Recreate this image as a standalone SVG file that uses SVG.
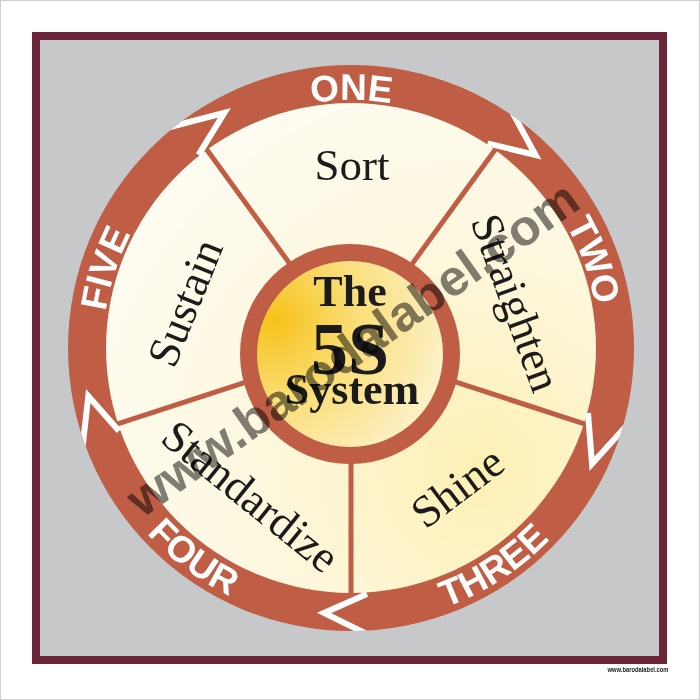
<svg xmlns="http://www.w3.org/2000/svg" width="700" height="700" viewBox="0 0 700 700">
  <defs>
    <style>
      .ring { fill: #bf5e45; }
      .spoke { stroke: #bf5e45; stroke-width: 5; stroke-linecap: butt; }
      .chev { fill: none; stroke: #ffffff; stroke-width: 6; stroke-linejoin: miter; stroke-miterlimit: 10; }
      .seg { font-family: "Liberation Serif", "Times New Roman", serif; font-size: 45px; fill: #1b1b1b; text-anchor: middle; }
      .num { font-family: "Liberation Sans", Arial, sans-serif; font-weight: bold; font-size: 37px; fill: #ffffff; text-anchor: middle; }
      .ctr { font-family: "Liberation Serif", "Times New Roman", serif; font-weight: bold; fill: #1b1b1b; text-anchor: middle; }
      .wm { font-family: "Liberation Sans", Arial, sans-serif; font-weight: bold; font-size: 50px; fill: #808080; text-anchor: middle; mix-blend-mode: multiply; }
    </style>
    <radialGradient id="creamGrad" cx="480" cy="470" r="420" gradientUnits="userSpaceOnUse">
      <stop offset="0" stop-color="#fdf0b4"/>
      <stop offset="0.5" stop-color="#fdf7dc"/>
      <stop offset="1" stop-color="#fefcf2"/>
    </radialGradient>
    <radialGradient id="coreGrad" cx="275" cy="320" r="190" gradientUnits="userSpaceOnUse">
      <stop offset="0" stop-color="#f6c21a"/>
      <stop offset="0.45" stop-color="#fadf7c"/>
      <stop offset="1" stop-color="#fdf4d6"/>
    </radialGradient>
    <clipPath id="ringClip">
      <circle cx="351" cy="348" r="283"/>
    </clipPath>
    <path id="topArc" d="M 351 596 A 248 248 0 0 1 351 100 A 248 248 0 0 1 351 596"/>
    <path id="botArc" d="M 351 72 A 276 276 0 0 0 351 624 A 276 276 0 0 0 351 72"/>
  </defs>

  <!-- page -->
  <rect x="0.5" y="0.5" width="699" height="699" fill="#ffffff" stroke="#cfcfcf" stroke-width="1"/>
  <rect x="36" y="36" width="627" height="624" fill="#c7c8c9" stroke="#6a2538" stroke-width="8"/>

  <!-- outer ring and disk -->
  <g id="wheel">
    <circle class="ring" cx="351" cy="348" r="283"/>
    <circle cx="351" cy="348" r="245" fill="url(#creamGrad)"/>
  </g>

  <!-- connectors: spokes and chevrons -->
  <g id="connectors">
    <line class="spoke" x1="292.2" y1="267.1" x2="205.8" y2="148.2"/>
    <line class="spoke" x1="409.8" y1="267.1" x2="496.2" y2="148.2"/>
    <line class="spoke" x1="446.1" y1="378.9" x2="585.9" y2="424.3"/>
    <line class="spoke" x1="351" y1="448" x2="351" y2="595"/>
    <line class="spoke" x1="255.9" y1="378.9" x2="116.1" y2="424.3"/>
    <g clip-path="url(#ringClip)">
      <polyline class="chev" points="170,127 224.4,112.9 198.5,154.9"/>
      <polyline class="chev" points="510,108 535.5,155.0 487.5,143.3"/>
      <polyline class="chev" points="628,424 592,463.8 588,413"/>
      <polyline class="chev" points="371,636 324,613 367,594"/>
      <polyline class="chev" points="82,452 88.3,396 119,431"/>
    </g>
  </g>

  <!-- ring labels -->
  <g id="ring-labels">
    <text class="num"><textPath href="#topArc" startOffset="779">ONE</textPath></text>
    <text class="num"><textPath href="#topArc" startOffset="1082">TWO</textPath></text>
    <text class="num"><textPath href="#topArc" startOffset="467">FIVE</textPath></text>
    <text class="num"><textPath href="#botArc" startOffset="1026">THREE</textPath></text>
    <text class="num"><textPath href="#botArc" startOffset="689">FOUR</textPath></text>
  </g>

  <!-- segment nodes -->
  <g id="node-sort"><text class="seg" x="352" y="180">Sort</text></g>
  <g id="node-straighten"><text class="seg" transform="translate(515,303) rotate(70)" x="0" y="14">Straighten</text></g>
  <g id="node-shine"><text class="seg" transform="translate(458,488) rotate(-37)" x="0" y="14">Shine</text></g>
  <g id="node-standardize"><text class="seg" transform="translate(250,497) rotate(39)" x="0" y="14">Standardize</text></g>
  <g id="node-sustain"><text class="seg" transform="translate(186,303) rotate(-68)" x="0" y="14">Sustain</text></g>

  <!-- center node -->
  <g id="node-center">
    <circle cx="350" cy="354" r="110" fill="#bf5e45"/>
    <circle cx="350" cy="354" r="93" fill="url(#coreGrad)"/>
    <text class="ctr" x="350" y="306" font-size="44">The</text>
    <text class="ctr" x="350" y="374" font-size="74">5S</text>
    <text class="ctr" x="352" y="404" font-size="44">System</text>
  </g>

  <!-- watermark -->
  <text class="wm" transform="translate(352,348) rotate(-35.3)" x="0" y="18" textLength="540" lengthAdjust="spacingAndGlyphs">www.barodalabel.com</text>

  <!-- footer -->
  <text x="638" y="672" font-family="Liberation Sans, Arial, sans-serif" font-weight="bold" font-size="6.5" fill="#222222" text-anchor="middle" textLength="61" lengthAdjust="spacingAndGlyphs">www.barodalabel.com</text>
</svg>
